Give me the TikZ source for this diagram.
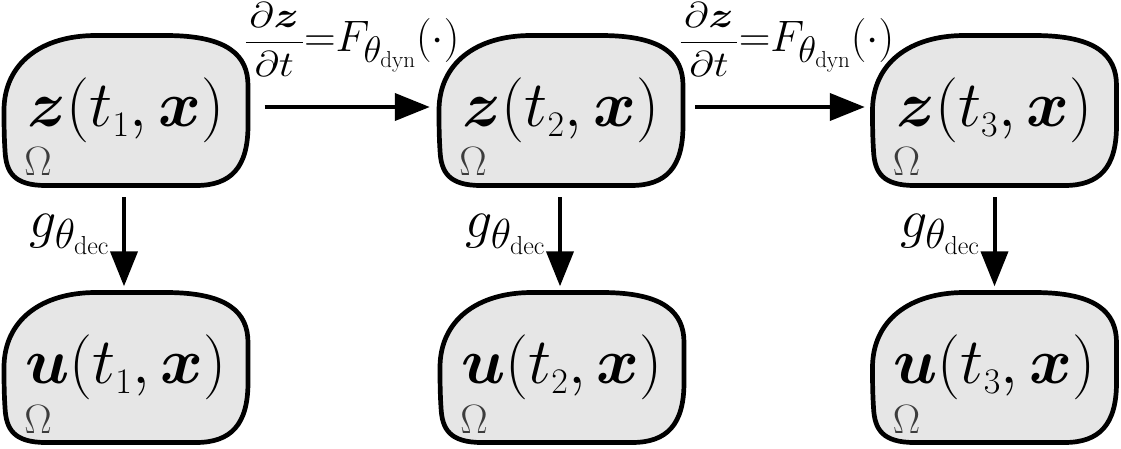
\RequirePackage{fix-cm}
\documentclass[tikz,border=0pt]{standalone}
\usepackage{amsmath,bm,graphicx}
\usetikzlibrary{arrows.meta}
\DeclareMathSizes{65}{65}{36}{27}
\DeclareMathSizes{44}{44}{37}{23}
\DeclareMathSizes{36}{36}{26}{19}
\DeclareMathSizes{54}{54}{42}{26}
\DeclareMathSizes{41}{41}{29}{20}
\definecolor{blobfill}{HTML}{E6E6E6}
\definecolor{omegagray}{HTML}{3C3C3C}
\tikzset{
  blobline/.style={draw=black, fill=blobfill, line width=4.7pt, line join=round},
  blob/.pic={\path[blobline] (-122,0) .. controls (-122,-47) and (-85,-75) .. (-30,-75)
      .. controls (0,-75) and (20,-75) .. (40,-75)
      .. controls (102,-75) and (122,-55) .. (122,-25)
      .. controls (122,-5) and (122,5) .. (122,15)
      .. controls (122,57) and (105,75) .. (70,75)
      -- (-80,75)
      .. controls (-112,75) and (-120,62) .. (-121,40)
      .. controls (-122,25) and (-122,10) .. cycle;},
  blobtext/.style={minimum width=244pt, minimum height=150pt, inner sep=0pt,
      font=\fontsize{65}{72}\selectfont},
  omega/.style={inner sep=0pt, text=omegagray, font=\fontsize{41}{48}\selectfont},
  arr/.style={line width=4pt, -{Triangle[length=35pt,width=27pt]}},
  flab/.style={inner sep=0pt, font=\fontsize{44}{50}\selectfont},
  glab/.style={inner sep=0pt, font=\fontsize{54}{60}\selectfont},
}
\newcommand\dynlabel{\scalebox{1.18}[1]{\fontsize{36}{40}\selectfont$\displaystyle\frac{\kern3pt\partial \bm z\kern3pt}{\kern3pt\partial t\kern3pt}$}$\mathord{=}F_{\theta_{\mathrm{dyn}}}(\cdot)$}
\begin{document}
\begin{tikzpicture}[x=1pt,y=-1pt]
\useasboundingbox (0,0) rectangle (1121,448);
% top row
\pic at (126,110.5) {blob};
\node[blobtext] (z1) at (126,110.5) {$\bm z(t_1,\bm x)$};
\node[omega] (o1) at (38,161.5) {$\Omega$};
\pic at (561,110.5) {blob};
\node[blobtext] (z2) at (561,110.5) {$\bm z(t_2,\bm x)$};
\node[omega] (o2) at (473,161.5) {$\Omega$};
\pic at (994.5,110.5) {blob};
\node[blobtext] (z3) at (994.5,110.5) {$\bm z(t_3,\bm x)$};
\node[omega] (o3) at (906.5,161.5) {$\Omega$};
% bottom row
\pic at (126,367.5) {blob};
\node[blobtext] (u1) at (126,367.5) {$\bm u(t_1,\bm x)$};
\node[omega] (o4) at (38,419) {$\Omega$};
\pic at (562,367.5) {blob};
\node[blobtext] (u2) at (562,367.5) {$\bm u(t_2,\bm x)$};
\node[omega] (o5) at (474,419) {$\Omega$};
\pic at (994.5,367.5) {blob};
\node[blobtext] (u3) at (994.5,367.5) {$\bm u(t_3,\bm x)$};
\node[omega] (o6) at (906.5,419) {$\Omega$};
% horizontal arrows
\draw[arr, shorten <=16.5pt, shorten >=9pt] ([yshift=3.5pt]z1.east) -- ([yshift=3.5pt]z2.west)
  node[midway, anchor=base west, xshift=-101pt, yshift=55.3pt, flab] (f1) {\dynlabel};
\draw[arr, shorten <=12pt, shorten >=7.5pt] ([yshift=3.5pt]z2.east) -- ([yshift=3.5pt]z3.west)
  node[midway, anchor=base west, xshift=-100.5pt, yshift=55.3pt, flab] (f2) {\dynlabel};
% vertical arrows
\draw[arr, shorten <=11.5pt, shorten >=6pt] ([xshift=-2pt]z1.south) -- ([xshift=-2pt]u1.north)
  node[midway, anchor=base east, xshift=-12.5pt, yshift=1.5pt, glab] (g1) {$g_{\theta_{\mathrm{dec}}}$};
\draw[arr, shorten <=11.5pt, shorten >=6pt] ([xshift=-1pt]z2.south) -- ([xshift=-2pt]u2.north)
  node[midway, anchor=base east, xshift=-12.5pt, yshift=1.5pt, glab] (g2) {$g_{\theta_{\mathrm{dec}}}$};
\draw[arr, shorten <=11.5pt, shorten >=6pt] (z3.south) -- (u3.north)
  node[midway, anchor=base east, xshift=-12.5pt, yshift=1.5pt, glab] (g3) {$g_{\theta_{\mathrm{dec}}}$};
\end{tikzpicture}
\end{document}
